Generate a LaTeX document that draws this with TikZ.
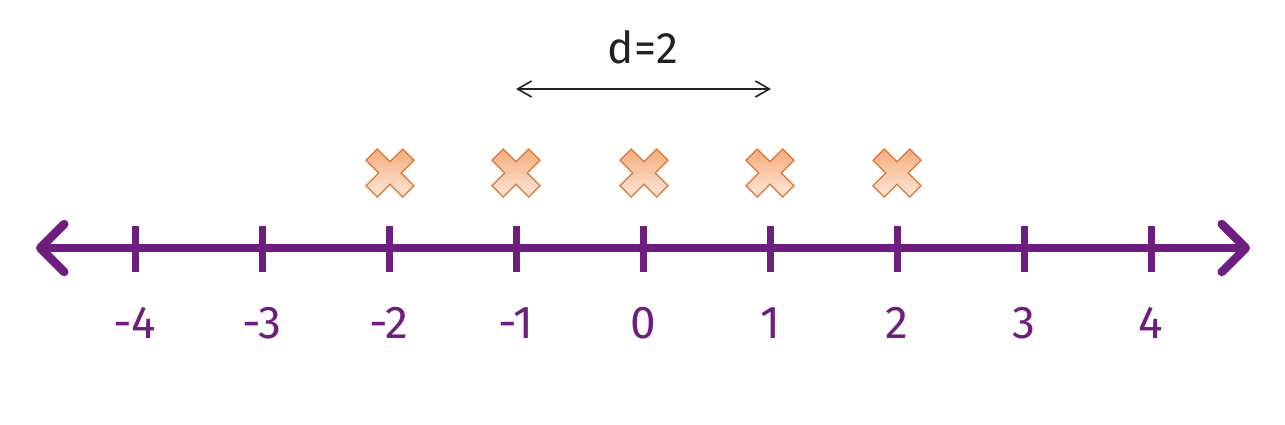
\documentclass[tikz,border=0pt]{standalone}
\usepackage{fontspec}
\setmainfont{Fira Sans}
\usetikzlibrary{arrows.meta}
\definecolor{linepurple}{HTML}{6E1E7E}
\definecolor{crossedge}{HTML}{DE7434}
\definecolor{crosstop}{HTML}{F4AC7C}
\definecolor{crossbot}{HTML}{FDE8DA}
\definecolor{textgray}{HTML}{222222}
\tikzset{
  numlabel/.style={anchor=base,text=linepurple,font=\fontsize{46bp}{50bp}\selectfont,inner sep=0pt},
  tickmark/.style={linepurple,line width=7bp},
  xcross/.pic={
    \draw [crossedge,line width=1.2bp,top color=crosstop,bottom color=crossbot,line join=miter]
      (0,-11.3) -- (12.7,-24) -- (24,-12.7) -- (11.3,0) -- (24,12.7) -- (12.7,24)
      -- (0,11.3) -- (-12.7,24) -- (-24,12.7) -- (-11.3,0) -- (-24,-12.7) -- (-12.7,-24) -- cycle;
  }
}

\begin{document}
\begin{tikzpicture}[x=1bp,y=-1bp]
\useasboundingbox (0,0) rectangle (1285,424);

\coordinate (W) at (36,248);
\coordinate (E) at (1250,248);
\draw [linepurple,line width=8.5bp,line cap=round,line join=round,{Straight Barb[length=24bp,width=48bp,round]}-{Straight Barb[length=24bp,width=48bp,round]}] (W) -- (E);

\draw [tickmark] (135,226) -- (135,272);
\draw [tickmark] (262,226) -- (262,272);
\draw [tickmark] (389,226) -- (389,272);
\draw [tickmark] (516,226) -- (516,272);
\draw [tickmark] (643,226) -- (643,272);
\draw [tickmark] (770,226) -- (770,272);
\draw [tickmark] (897,226) -- (897,272);
\draw [tickmark] (1024,226) -- (1024,272);
\draw [tickmark] (1151,226) -- (1151,272);

\node (Lm4) at (135,338)[numlabel] {-4};
\node (Lm3) at (262,338)[numlabel] {-3};
\node (Lm2) at (389,338)[numlabel] {-2};
\node (Lm1) at (516,338)[numlabel] {-1};
\node (L0) at (643,338)[numlabel] {0};
\node (L1) at (770,338)[numlabel] {1};
\node (L2) at (897,338)[numlabel] {2};
\node (L3) at (1024,338)[numlabel] {3};
\node (L4) at (1151,338)[numlabel] {4};

\pic (C1) at (390,173) {xcross};
\pic (C2) at (516,173) {xcross};
\pic (C3) at (644,173) {xcross};
\pic (C4) at (770,173) {xcross};
\pic (C5) at (897,173) {xcross};

\coordinate (DL) at (516,89);
\coordinate (DR) at (771,89);
\draw [textgray,line width=1.6bp,{Straight Barb[length=14bp,width=16bp]}-{Straight Barb[length=14bp,width=16bp]}] (DL) -- (DR);
\node (D) at (643,63)[anchor=base,inner sep=0pt,text=textgray,font=\fontsize{44bp}{48bp}\selectfont] {d=2};
\end{tikzpicture}
\end{document}
